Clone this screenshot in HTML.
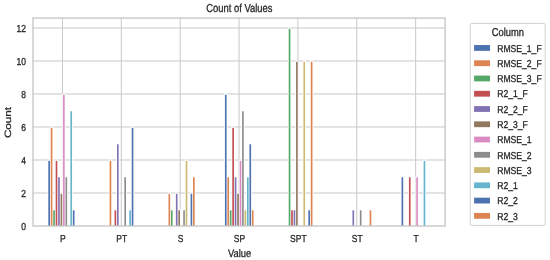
<!DOCTYPE html><html><head><meta charset="utf-8"><style>html,body{margin:0;padding:0;background:#fff;}svg{display:block;}text{font-family:"Liberation Sans",Arial,sans-serif;fill:#262626;stroke:#262626;stroke-width:0.3px;text-rendering:geometricPrecision;}</style></head><body>
<svg width="550" height="260" viewBox="0 0 550 260">
<rect width="550" height="260" fill="#fff"/>
<g stroke="#c8c8c8" stroke-width="1.0"><line x1="33" y1="192.99" x2="445.1" y2="192.99"/><line x1="33" y1="159.99" x2="445.1" y2="159.99"/><line x1="33" y1="126.98" x2="445.1" y2="126.98"/><line x1="33" y1="93.97" x2="445.1" y2="93.97"/><line x1="33" y1="60.97" x2="445.1" y2="60.97"/><line x1="33" y1="27.96" x2="445.1" y2="27.96"/><line x1="62.44" y1="18.06" x2="62.44" y2="226"/><line x1="121.31" y1="18.06" x2="121.31" y2="226"/><line x1="180.18" y1="18.06" x2="180.18" y2="226"/><line x1="239.05" y1="18.06" x2="239.05" y2="226"/><line x1="297.92" y1="18.06" x2="297.92" y2="226"/><line x1="356.79" y1="18.06" x2="356.79" y2="226"/><line x1="415.66" y1="18.06" x2="415.66" y2="226"/></g>
<g fill="#fff"><rect x="47.52" y="159.59" width="3.25" height="66.41"/><rect x="224.13" y="93.57" width="3.25" height="132.43"/><rect x="400.75" y="176.09" width="3.25" height="49.91"/><rect x="49.97" y="126.58" width="3.25" height="99.42"/><rect x="108.84" y="159.59" width="3.25" height="66.41"/><rect x="167.71" y="192.59" width="3.25" height="33.41"/><rect x="226.59" y="176.09" width="3.25" height="49.91"/><rect x="52.42" y="209.1" width="3.25" height="16.9"/><rect x="170.17" y="209.1" width="3.25" height="16.9"/><rect x="229.04" y="209.1" width="3.25" height="16.9"/><rect x="287.91" y="27.56" width="3.25" height="198.44"/><rect x="54.88" y="159.59" width="3.25" height="66.41"/><rect x="113.75" y="209.1" width="3.25" height="16.9"/><rect x="231.49" y="126.58" width="3.25" height="99.42"/><rect x="290.36" y="209.1" width="3.25" height="16.9"/><rect x="408.11" y="176.09" width="3.25" height="49.91"/><rect x="57.33" y="176.09" width="3.25" height="49.91"/><rect x="116.2" y="143.08" width="3.25" height="82.92"/><rect x="175.07" y="192.59" width="3.25" height="33.41"/><rect x="233.94" y="176.09" width="3.25" height="49.91"/><rect x="292.82" y="209.1" width="3.25" height="16.9"/><rect x="351.69" y="209.1" width="3.25" height="16.9"/><rect x="59.78" y="192.59" width="3.25" height="33.41"/><rect x="177.53" y="209.1" width="3.25" height="16.9"/><rect x="236.4" y="192.59" width="3.25" height="33.41"/><rect x="295.27" y="60.57" width="3.25" height="165.43"/><rect x="62.24" y="93.57" width="3.25" height="132.43"/><rect x="238.85" y="159.59" width="3.25" height="66.41"/><rect x="415.46" y="176.09" width="3.25" height="49.91"/><rect x="64.69" y="176.09" width="3.25" height="49.91"/><rect x="123.56" y="176.09" width="3.25" height="49.91"/><rect x="182.43" y="209.1" width="3.25" height="16.9"/><rect x="241.3" y="110.08" width="3.25" height="115.92"/><rect x="359.05" y="209.1" width="3.25" height="16.9"/><rect x="184.88" y="159.59" width="3.25" height="66.41"/><rect x="243.76" y="209.1" width="3.25" height="16.9"/><rect x="302.63" y="60.57" width="3.25" height="165.43"/><rect x="69.59" y="110.08" width="3.25" height="115.92"/><rect x="128.47" y="209.1" width="3.25" height="16.9"/><rect x="246.21" y="176.09" width="3.25" height="49.91"/><rect x="422.82" y="159.59" width="3.25" height="66.41"/><rect x="72.05" y="209.1" width="3.25" height="16.9"/><rect x="130.92" y="126.58" width="3.25" height="99.42"/><rect x="189.79" y="192.59" width="3.25" height="33.41"/><rect x="248.66" y="143.08" width="3.25" height="82.92"/><rect x="307.53" y="209.1" width="3.25" height="16.9"/><rect x="192.24" y="176.09" width="3.25" height="49.91"/><rect x="251.11" y="209.1" width="3.25" height="16.9"/><rect x="309.99" y="60.57" width="3.25" height="165.43"/><rect x="368.86" y="209.1" width="3.25" height="16.9"/></g>
<g fill="#4C72B0"><rect x="48.32" y="160.79" width="1.65" height="65.21"/><rect x="224.93" y="94.77" width="1.65" height="131.23"/><rect x="401.55" y="177.29" width="1.65" height="48.71"/></g>
<g fill="#DD8452"><rect x="50.77" y="127.78" width="1.65" height="98.22"/><rect x="109.64" y="160.79" width="1.65" height="65.21"/><rect x="168.51" y="193.79" width="1.65" height="32.21"/><rect x="227.39" y="177.29" width="1.65" height="48.71"/></g>
<g fill="#55A868"><rect x="53.22" y="210.3" width="1.65" height="15.7"/><rect x="170.97" y="210.3" width="1.65" height="15.7"/><rect x="229.84" y="210.3" width="1.65" height="15.7"/><rect x="288.71" y="28.76" width="1.65" height="197.24"/></g>
<g fill="#C44E52"><rect x="55.68" y="160.79" width="1.65" height="65.21"/><rect x="114.55" y="210.3" width="1.65" height="15.7"/><rect x="232.29" y="127.78" width="1.65" height="98.22"/><rect x="291.16" y="210.3" width="1.65" height="15.7"/><rect x="408.91" y="177.29" width="1.65" height="48.71"/></g>
<g fill="#8172B3"><rect x="58.13" y="177.29" width="1.65" height="48.71"/><rect x="117" y="144.28" width="1.65" height="81.72"/><rect x="175.87" y="193.79" width="1.65" height="32.21"/><rect x="234.74" y="177.29" width="1.65" height="48.71"/><rect x="293.62" y="210.3" width="1.65" height="15.7"/><rect x="352.49" y="210.3" width="1.65" height="15.7"/></g>
<g fill="#937860"><rect x="60.58" y="193.79" width="1.65" height="32.21"/><rect x="178.33" y="210.3" width="1.65" height="15.7"/><rect x="237.2" y="193.79" width="1.65" height="32.21"/><rect x="296.07" y="61.77" width="1.65" height="164.23"/></g>
<g fill="#DA8BC3"><rect x="63.04" y="94.77" width="1.65" height="131.23"/><rect x="239.65" y="160.79" width="1.65" height="65.21"/><rect x="416.26" y="177.29" width="1.65" height="48.71"/></g>
<g fill="#8C8C8C"><rect x="65.49" y="177.29" width="1.65" height="48.71"/><rect x="124.36" y="177.29" width="1.65" height="48.71"/><rect x="183.23" y="210.3" width="1.65" height="15.7"/><rect x="242.1" y="111.28" width="1.65" height="114.72"/><rect x="359.85" y="210.3" width="1.65" height="15.7"/></g>
<g fill="#CCB974"><rect x="185.68" y="160.79" width="1.65" height="65.21"/><rect x="244.56" y="210.3" width="1.65" height="15.7"/><rect x="303.43" y="61.77" width="1.65" height="164.23"/></g>
<g fill="#64B5CD"><rect x="70.39" y="111.28" width="1.65" height="114.72"/><rect x="129.27" y="210.3" width="1.65" height="15.7"/><rect x="247.01" y="177.29" width="1.65" height="48.71"/><rect x="423.62" y="160.79" width="1.65" height="65.21"/></g>
<g fill="#4C72B0"><rect x="72.85" y="210.3" width="1.65" height="15.7"/><rect x="131.72" y="127.78" width="1.65" height="98.22"/><rect x="190.59" y="193.79" width="1.65" height="32.21"/><rect x="249.46" y="144.28" width="1.65" height="81.72"/><rect x="308.33" y="210.3" width="1.65" height="15.7"/></g>
<g fill="#DD8452"><rect x="193.04" y="177.29" width="1.65" height="48.71"/><rect x="251.91" y="210.3" width="1.65" height="15.7"/><rect x="310.79" y="61.77" width="1.65" height="164.23"/><rect x="369.66" y="210.3" width="1.65" height="15.7"/></g>
<rect x="33" y="18.06" width="412.1" height="207.94" fill="none" stroke="#c4c4c4" stroke-width="1.3"/>
<text text-anchor="end" font-size="10.1" transform="translate(25.9 229.62) scale(0.84 1)">0</text>
<text text-anchor="end" font-size="10.1" transform="translate(25.9 196.61) scale(0.84 1)">2</text>
<text text-anchor="end" font-size="10.1" transform="translate(25.9 163.6) scale(0.84 1)">4</text>
<text text-anchor="end" font-size="10.1" transform="translate(25.9 130.6) scale(0.84 1)">6</text>
<text text-anchor="end" font-size="10.1" transform="translate(25.9 97.59) scale(0.84 1)">8</text>
<text text-anchor="end" font-size="10.1" transform="translate(25.9 64.58) scale(0.84 1)">10</text>
<text text-anchor="end" font-size="10.1" transform="translate(25.9 31.58) scale(0.84 1)">12</text>
<text text-anchor="middle" font-size="10.1" transform="translate(62.84 242.45) scale(0.84 1)">P</text>
<text text-anchor="middle" font-size="10.1" transform="translate(121.71 242.45) scale(0.84 1)">PT</text>
<text text-anchor="middle" font-size="10.1" transform="translate(180.58 242.45) scale(0.84 1)">S</text>
<text text-anchor="middle" font-size="10.1" transform="translate(239.45 242.45) scale(0.84 1)">SP</text>
<text text-anchor="middle" font-size="10.1" transform="translate(298.32 242.45) scale(0.84 1)">SPT</text>
<text text-anchor="middle" font-size="10.1" transform="translate(357.19 242.45) scale(0.84 1)">ST</text>
<text text-anchor="middle" font-size="10.1" transform="translate(416.06 242.45) scale(0.84 1)">T</text>
<text text-anchor="middle" font-size="11" transform="translate(239.55 256.6) scale(0.85 1)">Value</text>
<text text-anchor="middle" font-size="11.7" transform="translate(11.4 122.53) scale(0.78 1) rotate(-90)">Count</text>
<text text-anchor="middle" font-size="11.6" transform="translate(239.35 12.4) scale(0.81 1)">Count of Values</text>
<rect x="470.3" y="23.4" width="74.9" height="202" rx="1.6" ry="1.6" fill="#fff" stroke="#cccccc" stroke-width="0.9"/>
<text text-anchor="middle" font-size="11.4" transform="translate(507.8 36) scale(0.82 1)">Column</text>
<rect x="474.1" y="45.05" width="15.9" height="5.8" fill="#4C72B0"/>
<text font-size="10" transform="translate(497.2 51.65) scale(0.86 1)">RMSE_1_F</text>
<rect x="474.1" y="60.31" width="15.9" height="5.8" fill="#DD8452"/>
<text font-size="10" transform="translate(497.2 66.91) scale(0.86 1)">RMSE_2_F</text>
<rect x="474.1" y="75.58" width="15.9" height="5.8" fill="#55A868"/>
<text font-size="10" transform="translate(497.2 82.18) scale(0.86 1)">RMSE_3_F</text>
<rect x="474.1" y="90.84" width="15.9" height="5.8" fill="#C44E52"/>
<text font-size="10" transform="translate(497.2 97.44) scale(0.86 1)">R2_1_F</text>
<rect x="474.1" y="106.11" width="15.9" height="5.8" fill="#8172B3"/>
<text font-size="10" transform="translate(497.2 112.71) scale(0.86 1)">R2_2_F</text>
<rect x="474.1" y="121.37" width="15.9" height="5.8" fill="#937860"/>
<text font-size="10" transform="translate(497.2 127.97) scale(0.86 1)">R2_3_F</text>
<rect x="474.1" y="136.63" width="15.9" height="5.8" fill="#DA8BC3"/>
<text font-size="10" transform="translate(497.2 143.23) scale(0.86 1)">RMSE_1</text>
<rect x="474.1" y="151.9" width="15.9" height="5.8" fill="#8C8C8C"/>
<text font-size="10" transform="translate(497.2 158.5) scale(0.86 1)">RMSE_2</text>
<rect x="474.1" y="167.16" width="15.9" height="5.8" fill="#CCB974"/>
<text font-size="10" transform="translate(497.2 173.76) scale(0.86 1)">RMSE_3</text>
<rect x="474.1" y="182.43" width="15.9" height="5.8" fill="#64B5CD"/>
<text font-size="10" transform="translate(497.2 189.03) scale(0.86 1)">R2_1</text>
<rect x="474.1" y="197.69" width="15.9" height="5.8" fill="#4C72B0"/>
<text font-size="10" transform="translate(497.2 204.29) scale(0.86 1)">R2_2</text>
<rect x="474.1" y="212.95" width="15.9" height="5.8" fill="#DD8452"/>
<text font-size="10" transform="translate(497.2 219.55) scale(0.86 1)">R2_3</text>
</svg></body></html>
